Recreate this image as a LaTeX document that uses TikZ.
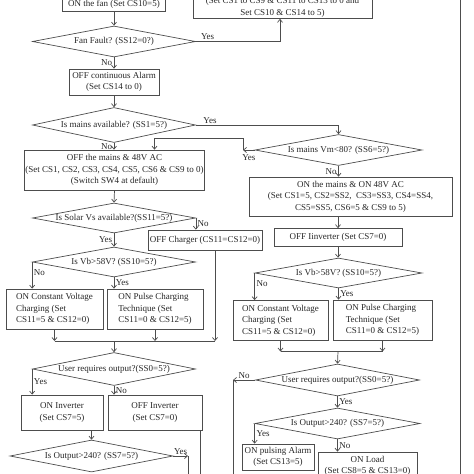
\documentclass[tikz,border=0pt]{standalone}
\usepackage{fontspec}
\setmainfont{Liberation Serif}
\usetikzlibrary{arrows.meta, positioning, shapes.geometric}
\definecolor{linegray}{HTML}{4D4D4D}
\tikzset{
box/.style={draw=linegray, line width=0.7pt, rectangle, inner sep=1pt, align=center}, % process steps
lbox/.style={box, align=left}, % steps with left aligned text
decision/.style={draw=linegray, line width=0.7pt, diamond, inner sep=0pt, minimum width=163pt, minimum height=31pt,
  execute at begin node={\hbox to 0pt\bgroup\hss}, execute at end node={\hss\egroup}}, % questions, size set by hand
lbl/.style={inner sep=1.5pt}, % the Yes / No labels
flow/.style={draw=linegray, line width=0.7pt}, % connectors
>={Straight Barb[length=3pt,width=5pt]}, % small open arrow heads
}

\begin{document}
\begin{tikzpicture}[x=1pt, y=-1pt, font=\fontsize{9}{11.5}\selectfont, text=black!85]
\useasboundingbox (0,0) rectangle (474,474);
\clip (0,0) rectangle (474,474);

        % left column
        \node[box, minimum width=103pt, minimum height=14pt] (fan) at (114,4.5) {ON the fan (Set CS10=5)};
        \node[box, minimum width=179pt, minimum height=22.5pt] (allset) at (282.5,7.25) {(Set CS1 to CS9 \& CS11 to CS13 to 0 and\\Set CS10 \& CS14 to 5)};
        \node[decision] (fanfault) at (114,41.5) {Fan Fault? (SS12=0?)};
        \node[box, minimum width=90pt, minimum height=26pt] (alarm) at (114,82) {OFF continuous Alarm\\(Set CS14 to 0)};
        \node[decision, minimum height=35pt] (mains) at (114,125) {Is mains available? (SS1=5?)};
        \node[box, minimum width=179pt, minimum height=40pt] (offmains) at (114.5,170) {OFF the mains \& 48V AC\\(Set CS1, CS2, CS3, CS4, CS5, CS6 \& CS9 to 0)\\(Switch SW4 at default)};
        \node[decision, minimum height=30pt] (solar) at (114,218) {Is Solar Vs available?(SS11=5?)};
        \node[box, minimum width=114pt, minimum height=20pt] (offchg) at (205,240) {OFF Charger (CS11=CS12=0)};
        \node[decision, minimum height=30pt] (vbL) at (114,262) {Is Vb>58V? (SS10=5?)};
        \node[lbox, minimum width=97pt, minimum height=40pt] (cvL) at (54.5,309) {ON Constant Voltage\\Charging (Set\\CS11=5 \& CS12=0)};
        \node[lbox, minimum width=96pt, minimum height=40pt] (pcL) at (155,309) {ON Pulse Charging\\Technique (Set\\CS11=0 \& CS12=5)};
        \node[decision, minimum height=33pt] (userL) at (114,369) {User requires output?(SS0=5?)};
        \node[box, minimum width=82pt, minimum height=35pt] (oninv) at (62,412.5) {ON Inverter\\(Set CS7=5)};
        \node[box, minimum width=94pt, minimum height=35pt] (offinv) at (155,412.5) {OFF Inverter\\(Set CS7=0)};
        \node[decision, minimum height=32pt] (outL) at (91.5,456) {Is Output>240? (SS7=5?)};

        % right column
        \node[decision, minimum width=167pt] (vm80) at (338.5,150) {Is mains Vm<80? (SS6=5?)};
        \node[box, minimum width=203pt, minimum height=39pt] (onmains) at (350.5,196.5) {ON the mains \& ON 48V AC\\(Set CS1=5, CS2=SS2,\ \ CS3=SS3, CS4=SS4,\\CS5=SS5, CS6=5 \& CS9 to 5)};
        \node[box, minimum width=128pt, minimum height=18pt] (offinvR) at (338,237.5) {OFF Iinverter (Set CS7=0)};
        \node[decision, minimum width=167pt, minimum height=30pt] (vbR) at (338.5,273) {Is Vb>58V? (SS10=5?)};
        \node[lbox, minimum width=95pt, minimum height=40pt] (cvR) at (280.5,320.5) {ON Constant Voltage\\Charging (Set\\CS11=5 \& CS12=0)};
        \node[lbox, minimum width=99pt, minimum height=40pt] (pcR) at (382.5,320) {ON Pulse Charging\\Technique (Set\\CS11=0 \& CS12=5)};
        \node[decision, minimum width=164pt, minimum height=32pt] (userR) at (337.5,380) {User requires output?(SS0=5?)};
        \node[decision, minimum width=165pt, minimum height=31pt] (outR) at (337.5,423.5) {Is Output>240? (SS7=5?)};
        \node[box, minimum width=72pt, minimum height=26pt] (alarmR) at (278,457) {ON pulsing Alarm\\(Set CS13=5)};
        \node[box, minimum width=99pt, minimum height=28pt] (load) at (367.5,466) {ON Load\\(Set CS8=5 \& CS13=0)};

        \coordinate (vmbend) at (243,150);
        \coordinate (vmtop) at (243,138);
        \coordinate (mergeL) at (114,341);
        \coordinate (mergeR) at (338,351.5);
        \coordinate (outLbend) at (188,456);
        \coordinate (userRbend) at (233,380);

        % left column connectors
        \draw[flow,->] (fan.south) -- (fanfault.north);
        \draw[flow,->] (fanfault.east) -| node[lbl, above right, pos=0.02] {Yes} ([xshift=-2.5pt]allset.south);
        \draw[flow,->] (fanfault.south) -- node[lbl, left] {No} (alarm.north);
        \draw[flow,->] (alarm.south) -- (mains.north);
        \draw[flow,->] (mains.east) -| node[lbl, above right, pos=0.02] {Yes} (vm80.north);
        \draw[flow,->] (mains.south) -- node[lbl, left] {No} (mains.south |- offmains.north);
        \draw[flow,->] (vm80.west) -- node[lbl, below=3pt] {Yes} (vmbend);
        \draw[flow,->] (vmbend) -- (vmtop) -| ([xshift=40pt]offmains.north);
        \draw[flow,->] (offmains.south) -- (solar.north);
        \draw[flow,->] (solar.east) -- node[lbl, right] {No} (solar.east |- offchg.north);
        \draw[flow,->] (solar.south) -- node[lbl, left] {Yes} (vbL.north);
        \draw[flow,->] (vbL.west) -- node[lbl, right, pos=0.4] {No} (vbL.west |- cvL.north);
        \draw[flow,->] (vbL.south) -- node[lbl, right] {Yes} (vbL.south |- pcL.north);
        \draw[flow,->] (cvL.south) -- (cvL.south |- mergeL);
        \draw[flow,->] (pcL.south) -- (pcL.south |- mergeL);
        \draw[flow,->] ([xshift=10pt]offchg.south) -- ([xshift=10pt]offchg.south |- mergeL);
        \draw[flow] (cvL.south |- mergeL) -- ([xshift=10pt]offchg.south |- mergeL);
        \draw[flow,->] (mergeL) -- (userL.north);
        \draw[flow,->] (userL.west) -- node[lbl, right] {Yes} (userL.west |- oninv.north);
        \draw[flow,->] (userL.south) -- node[lbl, right] {No} (userL.south |- offinv.north);
        \draw[flow,->] (outL.north |- oninv.south) -- (outL.north);
        \draw[flow] ([xshift=45pt]offinv.south) -- ++(0,60);
        \draw[flow,->] (outL.east) -- node[lbl, above] {Yes} (outLbend);
        \draw[flow] (outLbend) -- ++(0,40);

        % right column connectors
        \draw[flow,->] (vm80.south) -- node[lbl, left] {No} (vm80.south |- onmains.north);
        \draw[flow,->] (offinvR.north |- onmains.south) -- (offinvR.north);
        \draw[flow,->] (offinvR.south) -- (offinvR.south |- vbR.north);
        \draw[flow,->] (vbR.west) -- node[lbl, right, pos=0.4] {No} (vbR.west |- cvR.north);
        \draw[flow,->] (vbR.south) -- node[lbl, right] {Yes} (vbR.south |- pcR.north);
        \draw[flow,->] (cvR.south) -- (cvR.south |- mergeR);
        \draw[flow,->] (pcR.south) -- (pcR.south |- mergeR);
        \draw[flow] (cvR.south |- mergeR) -- (pcR.south |- mergeR);
        \draw[flow,->] (mergeR) -- (userR.north);
        \draw[flow,->] (userR.west) -- node[lbl, above] {No} (userRbend);
        \draw[flow] (userRbend) -- ++(0,100);
        \draw[flow,->] (userR.south) -- node[lbl, right] {Yes} (outR.north);
        \draw[flow,->] (outR.west) -- node[lbl, right] {Yes} (outR.west |- alarmR.north);
        \draw[flow,->] (outR.south) -- node[lbl, right] {No} (outR.south |- load.north);

        % return line on the right
        \draw[flow] (460,-10) -- (460,484);
\end{tikzpicture}
\end{document}
